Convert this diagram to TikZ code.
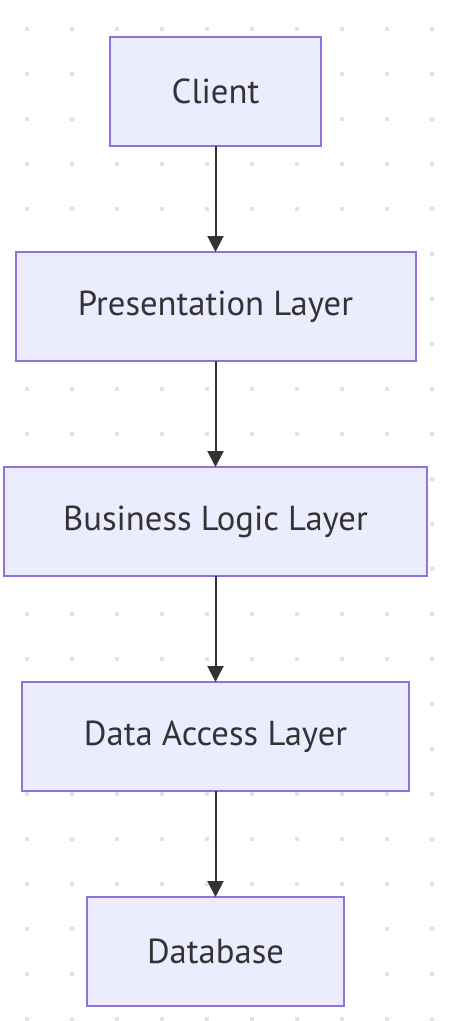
\documentclass[tikz,border=0pt]{standalone}
\usepackage{fontspec}
\setmainfont{PT Sans}
\usetikzlibrary{positioning,arrows.meta}

\definecolor{layerfill}{HTML}{ECECFF}
\definecolor{layerdraw}{HTML}{9370DB}
\definecolor{linkcol}{HTML}{333333}
\definecolor{dotcol}{HTML}{E3E3E3}

\tikzset{
	layer/.style={draw=layerdraw, fill=layerfill, line width=1.5pt, minimum height=81.75pt,
		inner sep=0pt, outer sep=0pt, text=linkcol, font=\fontsize{26}{30}\selectfont},
	link/.style={draw=linkcol, line width=1.5pt, -{Triangle[length=12pt,width=12pt]}},
	bgdot/.style={fill=dotcol}
}

\begin{document}
\begin{tikzpicture}[x=0.75pt, y=-0.75pt, node distance=79.5pt]
	\useasboundingbox (0,0) rectangle (465,1021);
	% dotted background
	\foreach \i in {0,...,10}{
		\foreach \j in {0,...,22}{
			\fill[bgdot] (26.7+45*\i-2, 29.3+45*\j-2) rectangle ++(4,4);
		}
	}
	
	\node[layer, minimum width=158.25pt] (client) at (215.5,91.5) {Client};
	\node[layer, minimum width=300pt, below=of client] (pres) {Presentation Layer};
	\node[layer, minimum width=317.25pt, below=of pres] (logic) {Business Logic Layer};
	\node[layer, minimum width=290.25pt, below=of logic] (data) {Data Access Layer};
	\node[layer, minimum width=192.75pt, below=of data] (db) {Database};
	
	\draw[link] (client) -- (pres);
	\draw[link] (pres) -- (logic);
	\draw[link] (logic) -- (data);
	\draw[link] (data) -- (db);
\end{tikzpicture}
\end{document}
